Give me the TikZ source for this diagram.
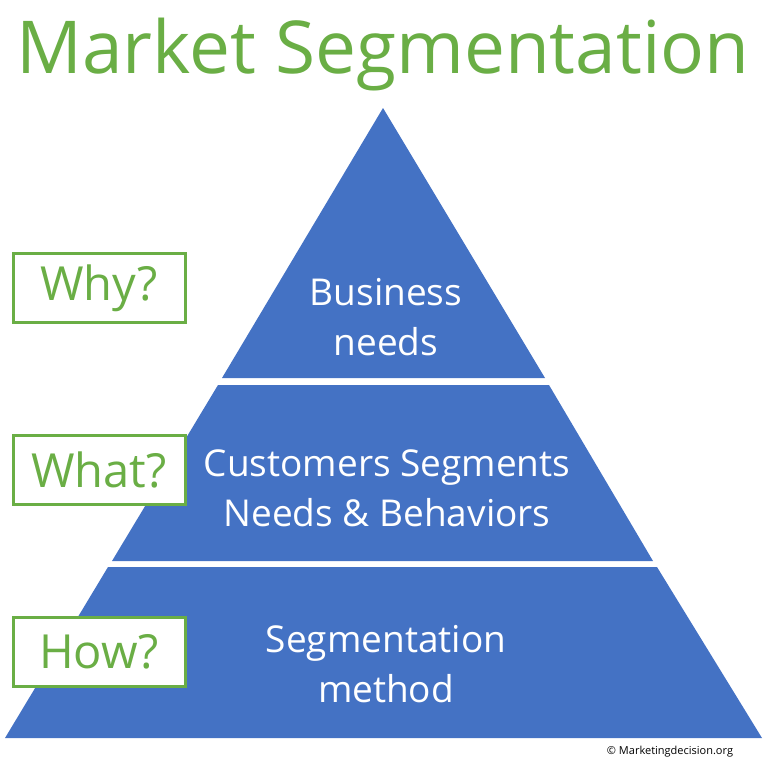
\documentclass[tikz,border=0pt]{standalone}
\usepackage{fontspec}
\setmainfont{Open Sans}
\definecolor{pblue}{HTML}{4472C4}
\definecolor{pgreen}{HTML}{6AAE45}
\begin{document}
\begin{tikzpicture}[x=1pt,y=-1pt,
  qbox/.style={draw=pgreen,fill=white,line width=3pt,minimum width=172pt,minimum height=69pt,inner sep=0pt,text=pgreen,font=\fontsize{47}{50}\selectfont},
  tier/.style={text=white,align=center,font=\fontsize{37}{50}\selectfont}]
\useasboundingbox (0,0) rectangle (768,768);
\fill[pblue] (383,108) -- (222,378) -- (545,378) -- cycle;
\fill[pblue] (218,385) -- (549,385) -- (653,561) -- (112,561) -- cycle;
\fill[pblue] (108,567) -- (657,567) -- (762,738) -- (5,738) -- cycle;
\node[text=pgreen,font=\fontsize{73}{80}\selectfont] (title) at (383,55) {Market Segmentation};
\node[tier] (t1) at (386,317) {Business\\needs};
\node[tier] (t2) at (387,488) {Customers Segments\\Needs \& Behaviors};
\node[tier] (t3) at (386,664) {Segmentation\\method};
\node[qbox] (why) at (99,288) {Why?};
\node[qbox] (what) at (99,470) {What?};
\node[qbox] (how) at (99,652) {How?};
\node[font=\fontsize{11}{12}\selectfont] (copy) at (670,752) {© Marketingdecision.org};
\end{tikzpicture}
\end{document}
